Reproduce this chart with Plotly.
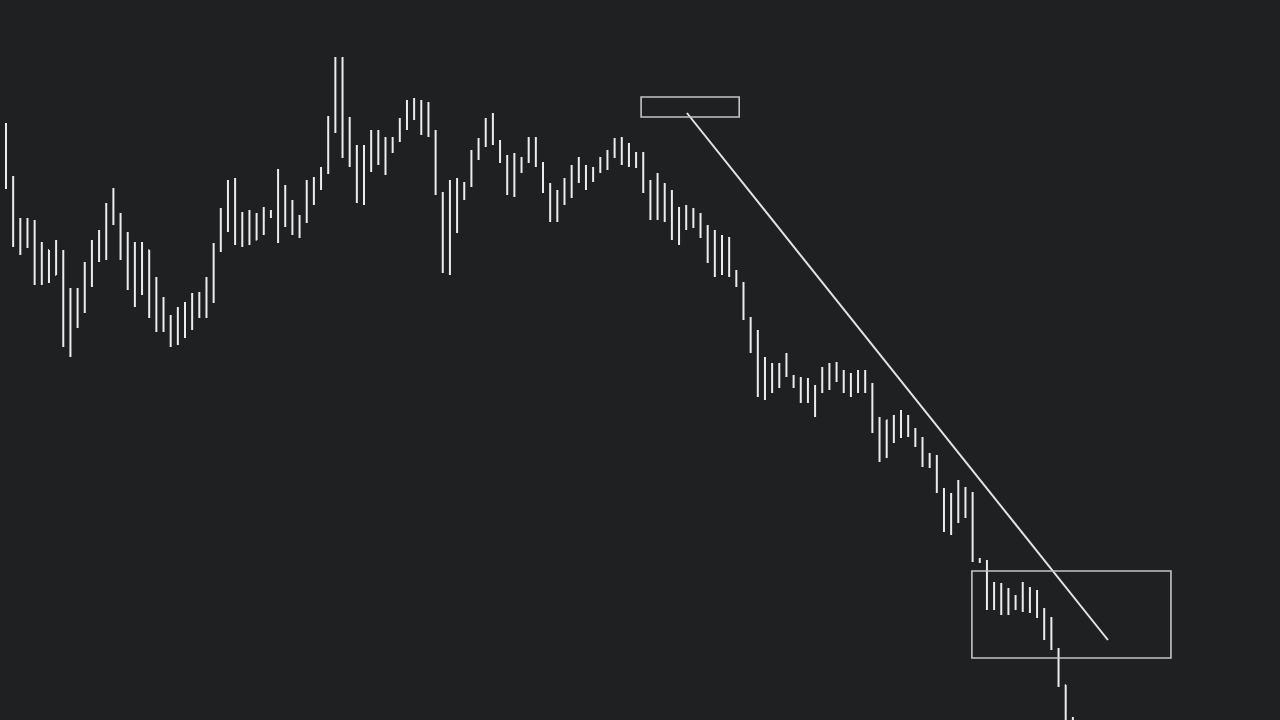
import plotly.graph_objects as go

high = [597,544,502,502,500,478,470,480,470,432,432,458,480,490,517,532,507,488,478,478,
        470,443,423,405,413,418,427,428,443,477,512,540,542,508,510,507,513,510,551,535,
        520,505,540,543,553,604,663,663,603,575,575,590,590,583,583,602,620,622,620,618,
        590,528,540,542,538,570,582,602,607,580,565,567,563,583,583,558,537,530,542,555,
        563,555,553,563,570,582,583,577,568,568,540,547,537,530,513,515,512,507,495,490,
        485,483,450,438,403,390,363,357,357,367,345,343,342,335,353,357,358,350,347,350,
        350,337,303,300,305,310,305,292,283,267,265,232,227,240,233,228,162,160,138,137,
        132,125,138,133,130,112,103,72,35,3]
low = [531,473,465,472,435,435,437,445,373,363,392,407,433,458,460,495,460,430,413,425,
       402,388,388,373,375,382,390,402,402,417,468,488,475,473,475,480,485,502,477,493,
       485,482,497,515,530,546,587,562,553,517,515,548,555,545,567,578,590,600,585,583,
       525,447,445,487,520,533,560,573,575,557,525,523,547,557,553,527,498,498,515,522,
       537,530,538,547,550,562,555,553,552,527,500,500,498,480,475,490,492,482,457,443,
       445,443,433,400,367,323,320,327,332,343,332,317,317,303,327,330,338,327,323,327,
       327,287,258,262,277,282,283,273,253,252,227,188,185,197,202,158,157,110,110,105,
       105,110,108,107,102,80,70,33,0,-5]
open_ = [590,535,478,490,480,440,470,445,468,380,425,428,450,475,485,510,500,465,435,428,
         470,410,395,395,380,405,415,420,425,440,470,505,535,480,500,480,500,503,505,530,
         500,495,500,535,540,550,600,590,570,560,520,570,580,560,575,580,598,610,605,590,
         585,525,460,535,530,535,565,578,598,578,562,530,560,560,580,555,530,505,520,540,
         550,540,550,550,560,565,575,570,560,555,530,505,535,500,485,505,500,495,485,460,
         480,450,445,436,400,370,330,355,350,345,340,335,320,330,330,350,340,345,330,345,
         330,335,290,265,300,300,290,290,270,258,262,230,192,225,210,225,160,158,115,130,
         110,120,112,130,112,100,85,70,35,2]
close = [535,478,490,480,440,470,445,475,380,425,428,450,475,485,510,500,465,435,420,470,
         410,395,395,380,405,415,420,425,440,470,505,535,480,500,480,500,490,505,545,500,
         495,500,535,540,550,600,590,570,560,520,570,580,560,575,580,598,610,605,590,595,
         530,460,535,530,525,565,578,598,590,562,530,560,560,580,560,530,505,520,540,550,
         540,550,550,560,565,575,570,560,555,530,505,540,500,485,505,500,495,485,460,480,
         450,445,438,405,370,330,355,350,340,345,335,320,335,310,350,340,345,330,345,330,
         345,290,265,300,300,285,300,278,258,262,230,192,225,200,230,160,160,112,135,110,
         128,112,135,110,105,85,75,37,2,-3]
idx = list(range(len(high)))

# annotation geometry (data units: bar index, price)
trend_line = dict(x0=95.1, y0=607, x1=153.9, y1=80)
top_box = dict(x0=88.7, y0=603, x1=102.4, y1=623)
bottom_box = dict(x0=134.9, y0=62, x1=162.7, y1=149)

fig = go.Figure(go.Ohlc(
    x=idx, open=open_, high=high, low=low, close=close,
    increasing=dict(line=dict(color="#ececec", width=2)),
    decreasing=dict(line=dict(color="#ececec", width=2)),
    tickwidth=0.12, hoverinfo="skip",
))

fig.add_shape(type="line", xref="x", yref="y", **trend_line,
              line=dict(color="#e4e4e4", width=2))
for b in (top_box, bottom_box):
    fig.add_shape(type="rect", xref="x", yref="y", **b,
                  line=dict(color="#c4c4c4", width=1.6), fillcolor="rgba(0,0,0,0)")

fig.update_layout(
    width=1280, height=720,
    margin=dict(l=0, r=0, t=0, b=0),
    paper_bgcolor="#1e2022", plot_bgcolor="#1e2022",
    showlegend=False,
    xaxis=dict(visible=False, range=[-0.838, 177.93], rangeslider=dict(visible=False)),
    yaxis=dict(visible=False, range=[0, 720]),
)
fig.write_html(
    "out.html",
    config={"displayModeBar": False},
    post_script="document.body.style.margin='0';document.body.style.background='#1e2022';document.body.style.overflow='hidden';",
)
